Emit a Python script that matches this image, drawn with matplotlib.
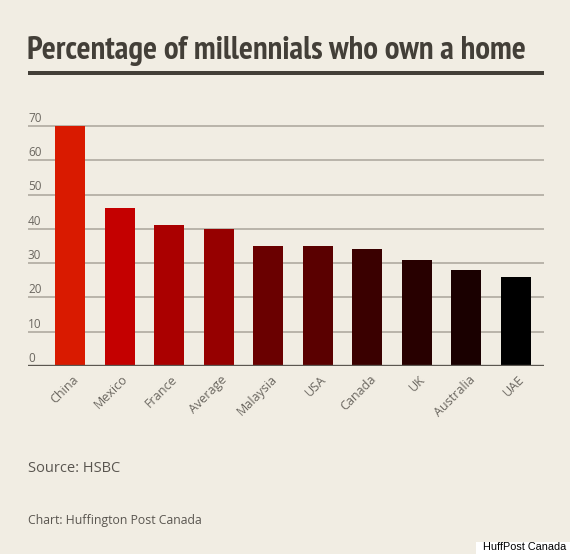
import matplotlib
matplotlib.use("Agg")
import matplotlib.pyplot as plt
import matplotlib.transforms as mtransforms
from matplotlib.patches import Rectangle

# -----------------------------
# Data
# -----------------------------
countries = ["China", "Mexico", "France", "Average", "Malaysia",
             "USA", "Canada", "UK", "Australia", "UAE"]
pct_owners = [70, 46, 41, 40, 35, 35, 34, 31, 28, 26]
bar_colors = ["#d91a00", "#c40000", "#aa0000", "#960000", "#6a0000",
              "#5a0000", "#3a0000", "#280000", "#1a0000", "#000000"]
y_ticks = [0, 10, 20, 30, 40, 50, 60, 70]

bg = "#f1ede3"
W, H = 570, 554

fig = plt.figure(figsize=(W / 100, H / 100), dpi=100, facecolor=bg)
ax = fig.add_axes([28 / W, 188 / H, (544 - 28) / W, 241.7 / H])
ax.set_facecolor(bg)

x = range(len(countries))
ax.bar(x, pct_owners, width=0.605, color=bar_colors, zorder=3)

ax.set_xlim(-0.847, 9.565)
ax.set_ylim(0, 70.5)

# grid lines
for v in y_ticks[1:]:
    ax.axhline(v, color="#b9b4aa", lw=1.4, zorder=1)
ax.axhline(0, color="#5b5750", lw=2.4, zorder=4)

# y labels sitting above each grid line
trans = mtransforms.blended_transform_factory(ax.transAxes, ax.transData)
for v in y_ticks:
    ax.text(0.0, v + 1.2, str(v), transform=trans, ha="left", va="baseline",
            fontsize=8.5, color="#6b6760", family="Open Sans")

for s in ax.spines.values():
    s.set_visible(False)
ax.set_yticks([])
ax.set_xticks(list(x))
ax.set_xticklabels(countries, rotation=45, ha="right", rotation_mode="anchor",
                   fontsize=9, color="#6b6760", family="Open Sans")
ax.tick_params(axis="x", length=0, pad=5)
offset = mtransforms.ScaledTranslation(2 / 100, 0, fig.dpi_scale_trans)
for lbl in ax.get_xticklabels():
    lbl.set_transform(lbl.get_transform() + offset)

# title and rule
fig.text(27 / W, 1 - 59 / H, "Percentage of millennials who own a home",
         fontsize=23.7, fontweight="bold", color="#433f38",
         family=["PT Sans Narrow", "DejaVu Sans"], ha="left", va="baseline")
fig.add_artist(Rectangle((28 / W, 1 - 75 / H), (544 - 28) / W, 4 / H,
                         transform=fig.transFigure, color="#433f38", lw=0))

# footer
fig.text(28 / W, 1 - 472 / H, "Source: HSBC", fontsize=10.5, color="#5a5650",
         family="Open Sans", ha="left", va="baseline")
fig.text(28 / W, 1 - 524 / H, "Chart: Huffington Post Canada", fontsize=8.8,
         color="#5a5650", family="Open Sans", ha="left", va="baseline")
fig.add_artist(Rectangle((476 / W, 0), (W - 476) / W, 12 / H,
                         transform=fig.transFigure, color="white", lw=0))
fig.text(566 / W, 2 / H, "HuffPost Canada", fontsize=7.8, color="black",
         family="Liberation Sans", ha="right", va="bottom")

fig.savefig("out.png", dpi=100, facecolor=bg)
